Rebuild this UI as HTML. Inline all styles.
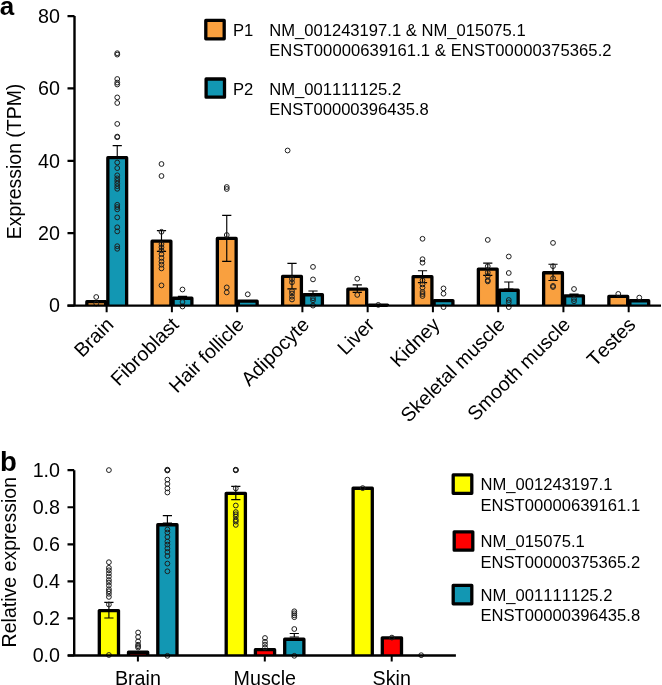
<!DOCTYPE html>
<html><head><meta charset="utf-8"><title>Expression figure</title>
<style>html,body{margin:0;padding:0;background:#fff;}svg{display:block;}</style>
</head><body>
<svg width="662" height="685" viewBox="0 0 662 685">
<g font-family="'Liberation Sans', Arial, Helvetica, sans-serif" style="font-kerning:none">
<rect x="86.84" y="301.65" width="18.80" height="3.95" fill="#F9A03F"/><path d="M86.84 305.60V301.65H105.64V305.60" fill="none" stroke="#000" stroke-width="3.3" stroke-linejoin="round"/>
<rect x="107.84" y="157.65" width="18.80" height="147.95" fill="#1297B3"/><path d="M107.84 305.60V157.65H126.64V305.60" fill="none" stroke="#000" stroke-width="3.3" stroke-linejoin="round"/>
<rect x="152.09" y="241.15" width="18.80" height="64.45" fill="#F9A03F"/><path d="M152.09 305.60V241.15H170.89V305.60" fill="none" stroke="#000" stroke-width="3.3" stroke-linejoin="round"/>
<rect x="173.09" y="298.25" width="18.80" height="7.35" fill="#1297B3"/><path d="M173.09 305.60V298.25H191.89V305.60" fill="none" stroke="#000" stroke-width="3.3" stroke-linejoin="round"/>
<rect x="217.35" y="238.45" width="18.80" height="67.15" fill="#F9A03F"/><path d="M217.35 305.60V238.45H236.15V305.60" fill="none" stroke="#000" stroke-width="3.3" stroke-linejoin="round"/>
<rect x="238.35" y="301.15" width="18.80" height="4.45" fill="#1297B3"/><path d="M238.35 305.60V301.15H257.15V305.60" fill="none" stroke="#000" stroke-width="3.3" stroke-linejoin="round"/>
<rect x="282.60" y="276.45" width="18.80" height="29.15" fill="#F9A03F"/><path d="M282.60 305.60V276.45H301.40V305.60" fill="none" stroke="#000" stroke-width="3.3" stroke-linejoin="round"/>
<rect x="303.60" y="294.75" width="18.80" height="10.85" fill="#1297B3"/><path d="M303.60 305.60V294.75H322.40V305.60" fill="none" stroke="#000" stroke-width="3.3" stroke-linejoin="round"/>
<rect x="347.86" y="289.15" width="18.80" height="16.45" fill="#F9A03F"/><path d="M347.86 305.60V289.15H366.66V305.60" fill="none" stroke="#000" stroke-width="3.3" stroke-linejoin="round"/>
<rect x="368.86" y="305.25" width="18.80" height="0.35" fill="#1297B3"/><path d="M368.86 305.60V305.25H387.66V305.60" fill="none" stroke="#000" stroke-width="3.3" stroke-linejoin="round"/>
<rect x="413.11" y="276.65" width="18.80" height="28.95" fill="#F9A03F"/><path d="M413.11 305.60V276.65H431.91V305.60" fill="none" stroke="#000" stroke-width="3.3" stroke-linejoin="round"/>
<rect x="434.11" y="300.55" width="18.80" height="5.05" fill="#1297B3"/><path d="M434.11 305.60V300.55H452.91V305.60" fill="none" stroke="#000" stroke-width="3.3" stroke-linejoin="round"/>
<rect x="478.37" y="269.05" width="18.80" height="36.55" fill="#F9A03F"/><path d="M478.37 305.60V269.05H497.17V305.60" fill="none" stroke="#000" stroke-width="3.3" stroke-linejoin="round"/>
<rect x="499.37" y="290.25" width="18.80" height="15.35" fill="#1297B3"/><path d="M499.37 305.60V290.25H518.17V305.60" fill="none" stroke="#000" stroke-width="3.3" stroke-linejoin="round"/>
<rect x="543.62" y="272.75" width="18.80" height="32.85" fill="#F9A03F"/><path d="M543.62 305.60V272.75H562.42V305.60" fill="none" stroke="#000" stroke-width="3.3" stroke-linejoin="round"/>
<rect x="564.62" y="295.85" width="18.80" height="9.75" fill="#1297B3"/><path d="M564.62 305.60V295.85H583.42V305.60" fill="none" stroke="#000" stroke-width="3.3" stroke-linejoin="round"/>
<rect x="608.88" y="296.45" width="18.80" height="9.15" fill="#F9A03F"/><path d="M608.88 305.60V296.45H627.68V305.60" fill="none" stroke="#000" stroke-width="3.3" stroke-linejoin="round"/>
<rect x="629.88" y="300.75" width="18.80" height="4.85" fill="#1297B3"/><path d="M629.88 305.60V300.75H648.68V305.60" fill="none" stroke="#000" stroke-width="3.3" stroke-linejoin="round"/>
<path d="M112.64 145.60H121.84M117.24 145.60V157.00M112.64 157.00H121.84" stroke="#000" stroke-width="1.15" fill="none"/>
<path d="M156.89 230.60H166.09M161.49 230.60V251.30M156.89 251.30H166.09" stroke="#000" stroke-width="1.15" fill="none"/>
<path d="M177.89 296.40H187.09M182.49 296.40V297.50M177.89 297.50H187.09" stroke="#000" stroke-width="1.15" fill="none"/>
<path d="M222.15 215.40H231.35M226.75 215.40V261.30M222.15 261.30H231.35" stroke="#000" stroke-width="1.15" fill="none"/>
<path d="M287.40 263.30H296.61M292.00 263.30V288.90M287.40 288.90H296.61" stroke="#000" stroke-width="1.15" fill="none"/>
<path d="M308.40 291.00H317.61M313.00 291.00V294.00M308.40 294.00H317.61" stroke="#000" stroke-width="1.15" fill="none"/>
<path d="M352.66 284.80H361.86M357.26 284.80V292.30M352.66 292.30H361.86" stroke="#000" stroke-width="1.15" fill="none"/>
<path d="M417.91 270.70H427.12M422.51 270.70V282.60M417.91 282.60H427.12" stroke="#000" stroke-width="1.15" fill="none"/>
<path d="M483.17 263.10H492.37M487.77 263.10V275.40M483.17 275.40H492.37" stroke="#000" stroke-width="1.15" fill="none"/>
<path d="M504.17 282.00H513.37M508.77 282.00V289.00M504.17 289.00H513.37" stroke="#000" stroke-width="1.15" fill="none"/>
<path d="M548.42 264.20H557.62M553.02 264.20V280.50M548.42 280.50H557.62" stroke="#000" stroke-width="1.15" fill="none"/>
<path d="M569.42 294.00H578.62M574.02 294.00V295.00M569.42 295.00H578.62" stroke="#000" stroke-width="1.15" fill="none"/>
<g fill="none" stroke="#1e1e1e" stroke-width="1">
<circle cx="96.24" cy="297.00" r="2.4"/><circle cx="96.24" cy="303.50" r="2.4"/>
<circle cx="117.24" cy="53.20" r="2.4"/><circle cx="117.24" cy="54.60" r="2.4"/><circle cx="117.24" cy="79.00" r="2.4"/><circle cx="117.24" cy="82.60" r="2.4"/><circle cx="117.24" cy="84.50" r="2.4"/><circle cx="117.24" cy="97.40" r="2.4"/><circle cx="117.24" cy="103.00" r="2.4"/><circle cx="117.24" cy="123.90" r="2.4"/><circle cx="117.24" cy="136.60" r="2.4"/><circle cx="117.24" cy="137.20" r="2.4"/><circle cx="117.24" cy="162.50" r="2.4"/><circle cx="117.24" cy="168.10" r="2.4"/><circle cx="117.24" cy="175.30" r="2.4"/><circle cx="117.24" cy="178.30" r="2.4"/><circle cx="117.24" cy="180.90" r="2.4"/><circle cx="117.24" cy="183.60" r="2.4"/><circle cx="117.24" cy="186.20" r="2.4"/><circle cx="117.24" cy="188.80" r="2.4"/><circle cx="117.24" cy="204.80" r="2.4"/><circle cx="117.24" cy="207.00" r="2.4"/><circle cx="117.24" cy="209.40" r="2.4"/><circle cx="117.24" cy="217.40" r="2.4"/><circle cx="117.24" cy="227.30" r="2.4"/><circle cx="117.24" cy="231.40" r="2.4"/><circle cx="117.24" cy="246.20" r="2.4"/><circle cx="117.24" cy="248.80" r="2.4"/>
<circle cx="161.49" cy="164.00" r="2.4"/><circle cx="161.49" cy="176.00" r="2.4"/><circle cx="161.49" cy="231.80" r="2.4"/><circle cx="161.49" cy="244.20" r="2.4"/><circle cx="161.49" cy="247.30" r="2.4"/><circle cx="161.49" cy="250.40" r="2.4"/><circle cx="161.49" cy="254.20" r="2.4"/><circle cx="161.49" cy="257.90" r="2.4"/><circle cx="161.49" cy="261.60" r="2.4"/><circle cx="161.49" cy="264.70" r="2.4"/><circle cx="161.49" cy="268.40" r="2.4"/><circle cx="161.49" cy="285.40" r="2.4"/>
<circle cx="182.49" cy="289.50" r="2.4"/><circle cx="182.49" cy="302.00" r="2.4"/><circle cx="182.49" cy="306.50" r="2.4"/>
<circle cx="226.75" cy="187.00" r="2.4"/><circle cx="226.75" cy="189.00" r="2.4"/><circle cx="226.75" cy="235.00" r="2.4"/><circle cx="226.75" cy="287.40" r="2.4"/><circle cx="226.75" cy="292.40" r="2.4"/>
<circle cx="247.75" cy="294.30" r="2.4"/>
<circle cx="287.61" cy="150.50" r="2.4"/><circle cx="292.00" cy="279.10" r="2.4"/><circle cx="292.00" cy="282.30" r="2.4"/><circle cx="292.00" cy="291.10" r="2.4"/><circle cx="292.00" cy="293.50" r="2.4"/><circle cx="292.00" cy="296.70" r="2.4"/><circle cx="292.00" cy="299.50" r="2.4"/>
<circle cx="313.00" cy="266.90" r="2.4"/><circle cx="313.00" cy="279.40" r="2.4"/><circle cx="313.00" cy="298.30" r="2.4"/><circle cx="313.00" cy="300.30" r="2.4"/><circle cx="313.00" cy="305.60" r="2.4"/>
<circle cx="357.26" cy="278.70" r="2.4"/><circle cx="357.26" cy="294.90" r="2.4"/>
<circle cx="378.26" cy="304.90" r="2.4"/>
<circle cx="422.51" cy="238.80" r="2.4"/><circle cx="422.51" cy="259.20" r="2.4"/><circle cx="422.51" cy="262.70" r="2.4"/><circle cx="422.51" cy="280.40" r="2.4"/><circle cx="422.51" cy="284.40" r="2.4"/><circle cx="422.51" cy="287.60" r="2.4"/><circle cx="422.51" cy="292.00" r="2.4"/><circle cx="422.51" cy="294.00" r="2.4"/><circle cx="422.51" cy="296.00" r="2.4"/>
<circle cx="443.51" cy="288.40" r="2.4"/><circle cx="443.51" cy="293.70" r="2.4"/><circle cx="443.51" cy="307.10" r="2.4"/>
<circle cx="487.77" cy="239.90" r="2.4"/><circle cx="487.77" cy="266.20" r="2.4"/><circle cx="487.77" cy="272.60" r="2.4"/><circle cx="487.77" cy="276.10" r="2.4"/><circle cx="487.77" cy="280.20" r="2.4"/><circle cx="487.77" cy="281.40" r="2.4"/>
<circle cx="508.77" cy="256.50" r="2.4"/><circle cx="508.77" cy="273.00" r="2.4"/><circle cx="508.77" cy="300.00" r="2.4"/><circle cx="508.77" cy="302.40" r="2.4"/><circle cx="508.77" cy="307.10" r="2.4"/>
<circle cx="553.02" cy="242.90" r="2.4"/><circle cx="553.02" cy="266.20" r="2.4"/><circle cx="553.02" cy="278.30" r="2.4"/><circle cx="553.02" cy="285.90" r="2.4"/><circle cx="553.02" cy="287.00" r="2.4"/>
<circle cx="574.02" cy="289.00" r="2.4"/><circle cx="574.02" cy="299.00" r="2.4"/><circle cx="574.02" cy="301.30" r="2.4"/>
<circle cx="618.28" cy="293.90" r="2.4"/>
<circle cx="639.28" cy="297.60" r="2.4"/>
</g>
<path d="M74.5 16.1V305.6M67.5 305.6H661" stroke="#000" stroke-width="2.4" fill="none"/>
<path d="M67.5 305.60H74.5M67.5 233.22H74.5M67.5 160.84H74.5M67.5 88.46H74.5M67.5 16.08H74.5" stroke="#000" stroke-width="2.2" fill="none"/>
<path d="M106.64 305.6V312.3M171.89 305.6V312.3M237.15 305.6V312.3M302.40 305.6V312.3M367.66 305.6V312.3M432.91 305.6V312.3M498.17 305.6V312.3M563.42 305.6V312.3M628.68 305.6V312.3" stroke="#000" stroke-width="2" fill="none"/>
<text x="60" y="312.40" font-size="19.7" text-anchor="end">0</text>
<text x="60" y="240.02" font-size="19.7" text-anchor="end">20</text>
<text x="60" y="167.64" font-size="19.7" text-anchor="end">40</text>
<text x="60" y="95.26" font-size="19.7" text-anchor="end">60</text>
<text x="60" y="22.88" font-size="19.7" text-anchor="end">80</text>
<text transform="translate(21 239.2) rotate(-90)" font-size="19.45">Expression (TPM)</text>
<text transform="translate(114.64 325.8) rotate(-45)" font-size="19.7" text-anchor="end">Brain</text>
<text transform="translate(179.89 325.8) rotate(-45)" font-size="19.7" text-anchor="end">Fibroblast</text>
<text transform="translate(245.15 325.8) rotate(-45)" font-size="19.7" text-anchor="end">Hair follicle</text>
<text transform="translate(310.40 325.8) rotate(-45)" font-size="19.7" text-anchor="end">Adipocyte</text>
<text transform="translate(375.66 325.8) rotate(-45)" font-size="19.7" text-anchor="end">Liver</text>
<text transform="translate(440.91 325.8) rotate(-45)" font-size="19.7" text-anchor="end">Kidney</text>
<text transform="translate(506.17 325.8) rotate(-45)" font-size="19.7" text-anchor="end">Skeletal muscle</text>
<text transform="translate(571.42 325.8) rotate(-45)" font-size="19.7" text-anchor="end">Smooth muscle</text>
<text transform="translate(636.68 325.8) rotate(-45)" font-size="19.7" text-anchor="end">Testes</text>
<text x="-0.3" y="15.0" font-size="26" font-weight="bold">a</text>
<rect x="205.80" y="20.40" width="18.40" height="18.40" fill="#F9A03F" stroke="#000" stroke-width="3.3" stroke-linejoin="round"/>
<rect x="206.10" y="79.00" width="18.40" height="18.20" fill="#1297B3" stroke="#000" stroke-width="3.3" stroke-linejoin="round"/>
<text x="233" y="36" font-size="16.6">P1</text>
<text x="269.2" y="36" font-size="16.6">NM_001243197.1 &amp; NM_015075.1</text>
<text x="269.2" y="56" font-size="16.6" letter-spacing="0.08">ENST00000639161.1 &amp; ENST00000375365.2</text>
<text x="233" y="94.8" font-size="16.6">P2</text>
<text x="269.2" y="94.8" font-size="16.6">NM_001111125.2</text>
<text x="269.2" y="114.6" font-size="16.6">ENST00000396435.8</text>
<rect x="99.30" y="610.55" width="19.20" height="44.95" fill="#FFFF00"/><path d="M99.30 655.50V610.55H118.50V655.50" fill="none" stroke="#000" stroke-width="3.3" stroke-linejoin="round"/>
<rect x="128.50" y="652.25" width="19.20" height="3.25" fill="#FF0000"/><path d="M128.50 655.50V652.25H147.70V655.50" fill="none" stroke="#000" stroke-width="3.3" stroke-linejoin="round"/>
<rect x="157.80" y="524.75" width="19.20" height="130.75" fill="#1297B3"/><path d="M157.80 655.50V524.75H177.00V655.50" fill="none" stroke="#000" stroke-width="3.3" stroke-linejoin="round"/>
<rect x="226.20" y="493.35" width="19.20" height="162.15" fill="#FFFF00"/><path d="M226.20 655.50V493.35H245.40V655.50" fill="none" stroke="#000" stroke-width="3.3" stroke-linejoin="round"/>
<rect x="255.40" y="649.65" width="19.20" height="5.85" fill="#FF0000"/><path d="M255.40 655.50V649.65H274.60V655.50" fill="none" stroke="#000" stroke-width="3.3" stroke-linejoin="round"/>
<rect x="284.70" y="639.25" width="19.20" height="16.25" fill="#1297B3"/><path d="M284.70 655.50V639.25H303.90V655.50" fill="none" stroke="#000" stroke-width="3.3" stroke-linejoin="round"/>
<rect x="353.10" y="488.25" width="19.20" height="167.25" fill="#FFFF00"/><path d="M353.10 655.50V488.25H372.30V655.50" fill="none" stroke="#000" stroke-width="3.3" stroke-linejoin="round"/>
<rect x="382.30" y="637.85" width="19.20" height="17.65" fill="#FF0000"/><path d="M382.30 655.50V637.85H401.50V655.50" fill="none" stroke="#000" stroke-width="3.3" stroke-linejoin="round"/>
<path d="M104.30 602.30H113.50M108.90 602.30V618.00M104.30 618.00H113.50" stroke="#000" stroke-width="1.15" fill="none"/>
<path d="M162.80 515.60H172.00M167.40 515.60V523.00M162.80 523.00H172.00" stroke="#000" stroke-width="1.15" fill="none"/>
<path d="M231.20 486.30H240.40M235.80 486.30V499.60M231.20 499.60H240.40" stroke="#000" stroke-width="1.15" fill="none"/>
<path d="M289.70 633.50H298.90M294.30 633.50V637.00M289.70 637.00H298.90" stroke="#000" stroke-width="1.15" fill="none"/>
<g fill="none" stroke="#1e1e1e" stroke-width="1">
<circle cx="108.90" cy="470.10" r="2.4"/><circle cx="108.90" cy="562.20" r="2.4"/><circle cx="108.90" cy="567.80" r="2.4"/><circle cx="108.90" cy="570.30" r="2.4"/><circle cx="108.90" cy="573.40" r="2.4"/><circle cx="108.90" cy="576.50" r="2.4"/><circle cx="108.90" cy="580.00" r="2.4"/><circle cx="108.90" cy="582.60" r="2.4"/><circle cx="108.90" cy="585.60" r="2.4"/><circle cx="108.90" cy="589.20" r="2.4"/><circle cx="108.90" cy="591.30" r="2.4"/><circle cx="108.90" cy="593.80" r="2.4"/><circle cx="108.90" cy="596.90" r="2.4"/><circle cx="108.90" cy="604.50" r="2.4"/><circle cx="108.90" cy="655.00" r="2.4"/>
<circle cx="138.10" cy="632.50" r="2.4"/><circle cx="138.10" cy="637.00" r="2.4"/><circle cx="138.10" cy="641.40" r="2.4"/><circle cx="138.10" cy="644.70" r="2.4"/><circle cx="138.10" cy="646.30" r="2.4"/><circle cx="138.10" cy="647.60" r="2.4"/>
<circle cx="167.40" cy="469.70" r="2.4"/><circle cx="167.40" cy="470.10" r="2.4"/><circle cx="167.40" cy="470.50" r="2.4"/><circle cx="167.40" cy="479.60" r="2.4"/><circle cx="167.40" cy="483.90" r="2.4"/><circle cx="167.40" cy="488.40" r="2.4"/><circle cx="167.40" cy="492.50" r="2.4"/><circle cx="167.40" cy="529.50" r="2.4"/><circle cx="167.40" cy="532.50" r="2.4"/><circle cx="167.40" cy="537.00" r="2.4"/><circle cx="167.40" cy="541.60" r="2.4"/><circle cx="167.40" cy="544.60" r="2.4"/><circle cx="167.40" cy="548.40" r="2.4"/><circle cx="167.40" cy="552.00" r="2.4"/><circle cx="167.40" cy="556.00" r="2.4"/><circle cx="167.40" cy="563.60" r="2.4"/><circle cx="167.40" cy="571.30" r="2.4"/><circle cx="167.40" cy="655.80" r="2.4"/>
<circle cx="235.80" cy="469.70" r="2.4"/><circle cx="235.80" cy="470.00" r="2.4"/><circle cx="235.80" cy="470.30" r="2.4"/><circle cx="235.80" cy="488.40" r="2.4"/><circle cx="235.80" cy="505.50" r="2.4"/><circle cx="235.80" cy="512.10" r="2.4"/><circle cx="235.80" cy="514.30" r="2.4"/><circle cx="235.80" cy="516.50" r="2.4"/><circle cx="235.80" cy="519.80" r="2.4"/><circle cx="235.80" cy="521.60" r="2.4"/><circle cx="235.80" cy="524.90" r="2.4"/>
<circle cx="265.00" cy="638.00" r="2.4"/><circle cx="265.00" cy="641.80" r="2.4"/><circle cx="265.00" cy="644.60" r="2.4"/><circle cx="265.00" cy="647.50" r="2.4"/>
<circle cx="294.30" cy="611.30" r="2.4"/><circle cx="294.30" cy="613.30" r="2.4"/><circle cx="294.30" cy="615.30" r="2.4"/><circle cx="294.30" cy="617.20" r="2.4"/><circle cx="294.30" cy="629.00" r="2.4"/><circle cx="294.30" cy="655.80" r="2.4"/>
<circle cx="362.70" cy="488.10" r="2.4"/>
<circle cx="391.90" cy="637.60" r="2.4"/>
<circle cx="421.20" cy="655.20" r="2.4"/>
</g>
<path d="M74.2 470.20V655.5M67.8 655.5H455.9" stroke="#000" stroke-width="2.4" fill="none"/>
<path d="M67.5 655.50H74.2M67.5 618.44H74.2M67.5 581.38H74.2M67.5 544.32H74.2M67.5 507.26H74.2M67.5 470.20H74.2" stroke="#000" stroke-width="2.2" fill="none"/>
<path d="M137.90 655.5V661.5M264.80 655.5V661.5M391.70 655.5V661.5" stroke="#000" stroke-width="2" fill="none"/>
<text x="60" y="662.30" font-size="19.7" text-anchor="end">0.0</text>
<text x="60" y="625.24" font-size="19.7" text-anchor="end">0.2</text>
<text x="60" y="588.18" font-size="19.7" text-anchor="end">0.4</text>
<text x="60" y="551.12" font-size="19.7" text-anchor="end">0.6</text>
<text x="60" y="514.06" font-size="19.7" text-anchor="end">0.8</text>
<text x="60" y="477.00" font-size="19.7" text-anchor="end">1.0</text>
<text transform="translate(16.2 647.4) rotate(-90)" font-size="19.55">Relative expression</text>
<text x="137.90" y="685.1" font-size="19.7" text-anchor="middle">Brain</text>
<text x="264.80" y="685.1" font-size="19.7" text-anchor="middle">Muscle</text>
<text x="391.70" y="685.1" font-size="19.7" text-anchor="middle">Skin</text>
<text x="0" y="471" font-size="27.5" font-weight="bold">b</text>
<rect x="453.20" y="474.90" width="18.60" height="18.40" fill="#FFFF00" stroke="#000" stroke-width="3.3" stroke-linejoin="round"/>
<text x="480.5" y="490.40" font-size="16.6">NM_001243197.1</text>
<text x="480.5" y="510.60" font-size="16.6">ENST00000639161.1</text>
<rect x="454.20" y="531.80" width="18.60" height="18.40" fill="#FF0000" stroke="#000" stroke-width="3.3" stroke-linejoin="round"/>
<text x="480.5" y="547.30" font-size="16.6">NM_015075.1</text>
<text x="480.5" y="567.50" font-size="16.6">ENST00000375365.2</text>
<rect x="453.20" y="585.40" width="18.60" height="18.40" fill="#1297B3" stroke="#000" stroke-width="3.3" stroke-linejoin="round"/>
<text x="480.5" y="600.90" font-size="16.6">NM_001111125.2</text>
<text x="480.5" y="621.10" font-size="16.6">ENST00000396435.8</text>
</g>
</svg>
</body></html>
